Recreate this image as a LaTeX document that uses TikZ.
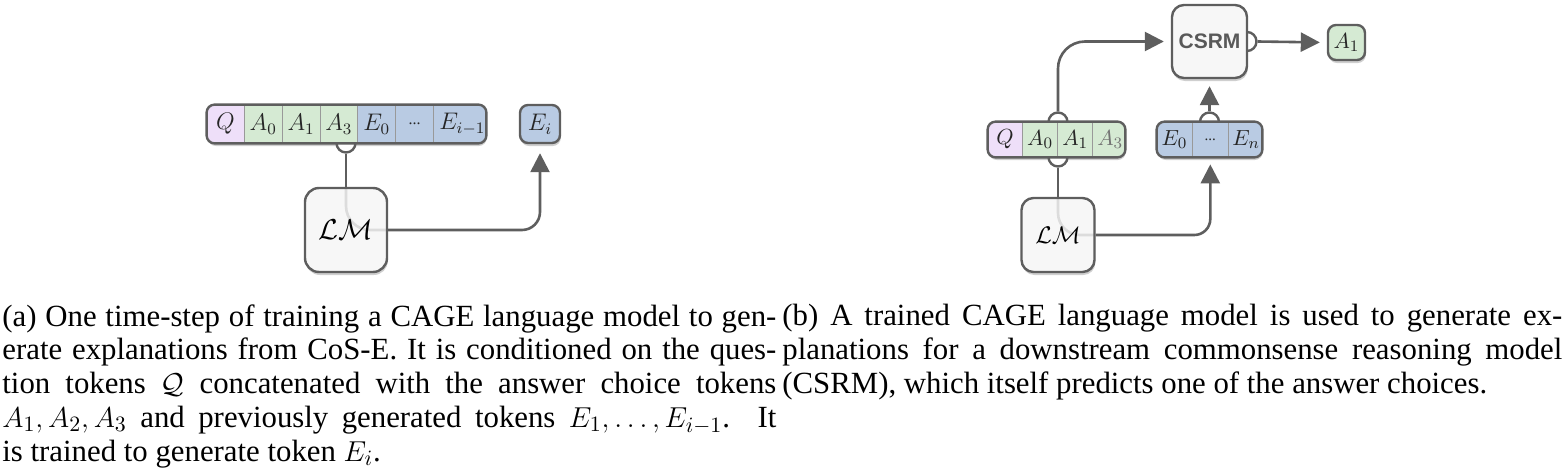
\documentclass[tikz,border=0pt]{standalone}
\usepackage{fontspec}
\setmainfont{Liberation Serif}
\setsansfont{Liberation Sans}
\usepackage{amsmath}
\usetikzlibrary{arrows.meta,positioning}
\definecolor{qfill}{HTML}{EEDFF9}
\definecolor{afill}{HTML}{D5EAD3}
\definecolor{efill}{HTML}{B9CBE3}
\definecolor{edge}{HTML}{5E5E5E}
\definecolor{boxfill}{HTML}{F7F7F7}
\definecolor{shadowc}{HTML}{CFCFCF}
\definecolor{faint}{HTML}{DCDCDC}
\begin{document}
\begin{tikzpicture}[x=0.5pt,y=-0.5pt,line join=round,>={Triangle[length=9.5pt,width=9.5pt]},
	every node/.style={inner sep=0pt},
	captext/.style={anchor=north west,align=justify,font=\fontsize{15.4}{16.9}\selectfont},
	tok/.style={rectangle,minimum height=19pt,minimum width=18.5pt,text=black!85,font=\fontsize{12}{14}\selectfont},
	toks/.style={tok,minimum height=17.5pt,minimum width=17.5pt,font=\fontsize{11}{13}\selectfont},
	boxshadow/.style={preaction={fill=shadowc,draw=none,transform canvas={xshift=0.4pt,yshift=-1.5pt}}},
	barbox/.style={rectangle,rounded corners=4pt,fill=white,boxshadow},
	barline/.style={draw=edge,line width=1.2pt,rounded corners=4pt},
	divider/.style={draw=black!40,line width=0.5pt},
	box/.style={rectangle,draw=edge,line width=1.2pt,fill=boxfill,rounded corners=6pt,boxshadow},
	lmbox/.style={box,path picture={\draw[faint,line width=1.3pt,rounded corners=#1] (path picture bounding box.north) |- (path picture bounding box.east);}},
	hop/.style={circle,draw=edge,line width=1.2pt,fill=white,minimum size=9.5pt},
	conn/.style={draw=edge,line width=1.3pt,->,shorten >=3.5pt},
	link/.style={draw=edge,line width=1.3pt}]
	\useasboundingbox (0,0) rectangle (1564,471);
	\node[captext,text width=387pt] (capA) at (2,304) {(a) One time-step of training a CAGE language model to gen-\linebreak erate explanations from CoS-E. It is conditioned on the ques-\linebreak tion tokens $\mathcal{Q}$ concatenated with the answer choice tokens\linebreak $A_1, A_2, A_3$ and previously generated tokens $E_1, \ldots, E_{i-1}$. It\linebreak is trained to generate token $E_i$.};
	\node[captext,text width=390pt] (capB) at (782,304) {(b) A trained CAGE language model is used to generate ex-\linebreak planations for a downstream commonsense reasoning model\linebreak (CSRM), which itself predicts one of the answer choices.};
	\node[barbox,minimum width=139.5pt,minimum height=19pt] (barL) at (346.5,124) {};
	\node[hop] (hopL) at (346,143) {};
	\begin{scope}
		\clip[rounded corners=4pt] (barL.north west) rectangle (barL.south east);
		\node[tok,fill=qfill,right=0pt of barL.west] (q) {$Q$};
		\node[tok,fill=afill,right=0pt of q] (a0) {$A_0$};
		\node[tok,fill=afill,right=0pt of a0] (a1) {$A_1$};
		\node[tok,fill=afill,right=0pt of a1] (a3) {$A_3$};
		\node[tok,fill=efill,right=0pt of a3] (e0) {$E_0$};
		\node[tok,fill=efill,right=0pt of e0] (dd) {\fontsize{8}{9}\selectfont...};
		\node[tok,fill=efill,minimum width=28.5pt,right=0pt of dd] (ee) {$E_{i-1}$};
	\end{scope}
	\foreach \cell in {a0,a1,a3,e0,dd,ee} \draw[divider] (\cell.north west) -- (\cell.south west);
	\draw[barline] (barL.north west) rectangle (barL.south east);
	\node[tok,fill=efill,draw=edge,line width=1.2pt,rounded corners=4pt,minimum width=20pt,boxshadow] (ei) at (540,124) {$E_i$};
	\node[lmbox=12pt,minimum width=41pt,minimum height=42pt,font=\fontsize{15}{17}\selectfont,rounded corners=7pt] (lmL) at (346,230) {$\mathcal{LM}$};
	\draw[link] (hopL.south) -- (lmL.north);
	\draw[conn,rounded corners=9pt,shorten >=4.5pt] (lmL.east) -| (ei.south);
	\node[barbox,minimum width=68.5pt,minimum height=17.5pt] (barQ) at (1056.5,139.5) {};
	\node[barbox,minimum width=52.5pt,minimum height=17.5pt] (barE) at (1209.5,139.5) {};
	\node[hop] (hopT) at (1058,122) {};
	\node[hop] (hopB) at (1058,157) {};
	\node[hop] (hopE) at (1209.5,122) {};
	\begin{scope}
		\clip[rounded corners=4pt] (barQ.north west) rectangle (barQ.south east);
		\node[toks,fill=qfill,minimum width=17.125pt,right=0pt of barQ.west] (rq) {$Q$};
		\node[toks,fill=afill,minimum width=17.125pt,right=0pt of rq] (ra0) {$A_0$};
		\node[toks,fill=afill,minimum width=17.125pt,right=0pt of ra0] (ra1) {$A_1$};
		\node[toks,fill=afill,minimum width=17.125pt,right=0pt of ra1,text=black!55] (ra3) {$A_3$};
	\end{scope}
	\begin{scope}
		\clip[rounded corners=4pt] (barE.north west) rectangle (barE.south east);
		\node[toks,fill=efill,right=0pt of barE.west] (re0) {$E_0$};
		\node[toks,fill=efill,right=0pt of re0] (rdd) {\fontsize{7.5}{9}\selectfont...};
		\node[toks,fill=efill,right=0pt of rdd] (ren) {$E_n$};
	\end{scope}
	\foreach \cell in {ra0,ra1,ra3,rdd,ren} \draw[divider] (\cell.north west) -- (\cell.south west);
	\draw[barline] (barQ.north west) rectangle (barQ.south east);
	\draw[barline] (barE.north west) rectangle (barE.south east);
	\node[hop] (hopC) at (1247,41.5) {};
	\node[box,minimum width=37.5pt,minimum height=36.5pt,text=black!65,font=\sffamily\bfseries\fontsize{10.5}{12}\selectfont] (csrm) at (1209.5,41.5) {CSRM};
	\node[toks,fill=afill,draw=edge,line width=1.2pt,rounded corners=4pt,minimum width=18.5pt,boxshadow] (ans) at (1346.5,42.5) {$A_1$};
	\node[lmbox=11pt,minimum width=36.5pt,minimum height=37pt,font=\fontsize{12.5}{14}\selectfont] (lmR) at (1058,235) {$\mathcal{LM}$};
	\draw[link] (hopB.south) -- (lmR.north);
	\draw[conn,rounded corners=8pt] (lmR.east) -| (rdd.south);
	\draw[conn,rounded corners=13.5pt] (hopT.north) |- (csrm.west);
	\draw[conn] (hopE.north) -- (csrm.south);
	\draw[conn] (hopC.east) -- (ans.west);
\end{tikzpicture}
\end{document}
